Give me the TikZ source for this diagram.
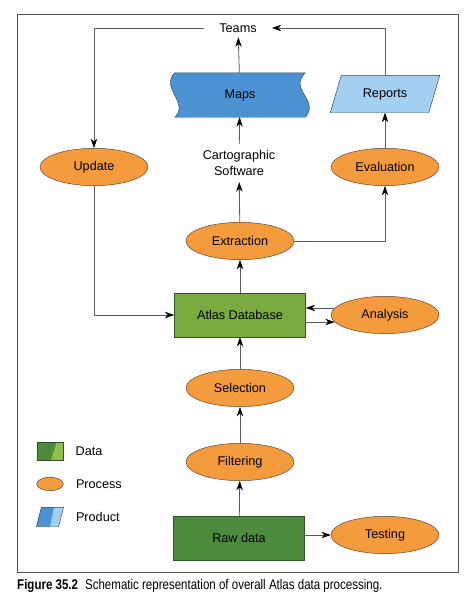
\documentclass[tikz,border=0pt]{standalone}
\usepackage{fontspec}
\setmainfont{Liberation Sans}
\newfontfamily\capfont[FakeStretch=0.82]{Liberation Sans}
\usetikzlibrary{arrows.meta,positioning,shapes.geometric,backgrounds,calc}

\definecolor{procorange}{HTML}{F39B3D}
\definecolor{procline}{HTML}{5A4030}
\definecolor{atlasgreen}{HTML}{7BAA3E}
\definecolor{rawgreen}{HTML}{4C8B3B}
\definecolor{lightgreen}{HTML}{8DBF4A}
\definecolor{dataline}{HTML}{34502A}
\definecolor{mapblue}{HTML}{4B93D3}
\definecolor{reportblue}{HTML}{A3D0F0}
\definecolor{prodline}{HTML}{2A4460}
\definecolor{linegray}{HTML}{5A5A5A}
\definecolor{framegray}{HTML}{505050}

\begin{document}
\begin{tikzpicture}[
    x=0.03cm, y=-0.03cm,
    % Define styles
    every node/.style={font=\fontsize{10.8}{13}\selectfont},
    process/.style={ellipse, draw=procline, fill=procorange, minimum width=3.24cm, minimum height=1.12cm, inner sep=0pt},
    datanode/.style={rectangle, draw=dataline, minimum width=3.93cm, minimum height=1.31cm},
    arrow/.style={draw=linegray, line width=0.7pt, -{Stealth[length=8pt,width=5.5pt,inset=2.4pt,color=black,fill=black]}},
    frame/.style={draw=framegray, line width=0.8pt}
]
\useasboundingbox (0,0) rectangle (474,609);

% Frame
\draw[frame] (17,14) rectangle (458,572);

% Outputs
\node[inner xsep=0.45cm, inner ysep=4pt] (teams) at (238,28) {Teams};
\node[minimum width=3.9cm, minimum height=1.32cm] (maps) at (240,95) {Maps};
\node[minimum width=3.27cm, minimum height=1.11cm] (reports) at (385,94) {Reports};
\node[align=center, inner sep=0.2cm] (software) at (239,163) {Cartographic\\Software};

% Processes and data
\node[process] (update) at (94,167) {Update};
\node[process] (evaluation) at (385,167) {Evaluation};
\node[process] (extraction) at (240,241) {Extraction};
\node[datanode, fill=atlasgreen] (atlas) at (240,315) {Atlas Database};
\node[process] (analysis) at (385,315) {Analysis};
\node[process] (selection) at (240,388) {Selection};
\node[process] (filtering) at (240,462) {Filtering};
\node[datanode, fill=rawgreen] (raw) at (239,538) {Raw data};
\node[process] (testing) at (385,535) {Testing};

% Legend
\node[rectangle, draw=dataline, fill=rawgreen, minimum width=0.78cm, minimum height=0.54cm,
    path picture={\fill[lightgreen] ($(path picture bounding box.south)+(0.03cm,0)$) -- (path picture bounding box.south east)
        -- (path picture bounding box.north east) -- ($(path picture bounding box.north)+(0.2cm,0)$) -- cycle;}] (legdata) at (50,451) {};
\node[ellipse, draw=procline, fill=procorange, minimum width=0.8cm, minimum height=0.4cm, inner sep=0pt] (legproc) at (50,484) {};
\node[minimum width=0.8cm, minimum height=0.57cm, inner sep=0pt] (legprod) at (50,517) {};
\node[right=0.25cm of legdata] (legdatatxt) {Data};
\node[right=0.25cm of legproc] (legproctxt) {Process};
\node[right=0.25cm of legprod] (legprodtxt) {Product};

% Product outlines
\begin{scope}[on background layer]
\draw[draw=prodline, fill=mapblue] (maps.north west) -- (maps.north east)
    .. controls +(-17,17) and +(15,-17) .. (maps.south east) -- (maps.south west)
    .. controls +(15,-14) and +(-15,15) .. (maps.north west);
\draw[draw=prodline, fill=reportblue] (reports.south west) -- ($(reports.south east)+(-11,0)$)
    -- (reports.north east) -- ($(reports.north west)+(11,0)$) -- cycle;
\fill[reportblue] (legprod.south west) -- ($(legprod.south east)+(-5,0)$)
    -- (legprod.north east) -- ($(legprod.north west)+(5,0)$) -- cycle;
\fill[mapblue] (legprod.south west) -- ($(legprod.south)+(0,0)$)
    -- ($(legprod.north)+(4,0)$) -- ($(legprod.north west)+(5,0)$) -- cycle;
\draw[draw=prodline] (legprod.south west) -- ($(legprod.south east)+(-5,0)$)
    -- (legprod.north east) -- ($(legprod.north west)+(5,0)$) -- cycle;
\end{scope}

% Main column
\draw[arrow] (raw) -- (filtering);
\draw[arrow] (filtering) -- (selection);
\draw[arrow] (selection) -- (atlas);
\draw[arrow] (atlas) -- (extraction);
\draw[arrow] (extraction) -- (software);
\draw[arrow] (software) -- (maps);
\draw[arrow] (maps) -- (teams);

% Side loops
\draw[arrow] (raw.east |- testing.west) -- (testing.west);
\draw[arrow] (analysis.172) -- (analysis.172 -| atlas.east);
\draw[arrow] (analysis.188 -| atlas.east) -- (analysis.188);
\draw[arrow] (extraction) -| (evaluation);
\draw[arrow] (evaluation) -- (reports);
\draw[arrow] (reports) |- (teams);
\draw[arrow] (teams) -| (update);
\draw[arrow] (update) |- (atlas);

% Caption
\node[anchor=base west, inner sep=0pt, font=\capfont\fontsize{12}{14}\selectfont] (caption) at (17,589)
    {\textbf{Figure 35.2}\hspace{0.5em}Schematic representation of overall Atlas data processing.};

\end{tikzpicture}
\end{document}
